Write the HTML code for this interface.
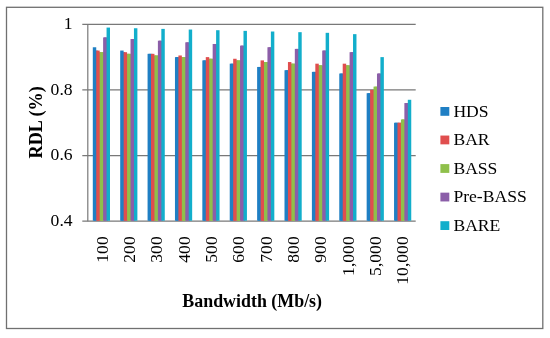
<!DOCTYPE html>
<html><head><meta charset="utf-8"><title>RDL chart</title>
<style>html,body{margin:0;padding:0;background:#fff}svg{display:block}text{font-family:"Liberation Serif","Times New Roman",serif;fill:#000}</style></head>
<body>
<svg width="550" height="338" viewBox="0 0 550 338">
<rect width="550" height="338" fill="#fff"/>
<rect x="6.5" y="7.3" width="536.3" height="321.2" fill="#fff" stroke="#707070" stroke-width="1.3"/>
<line x1="82.3" y1="24.30" x2="415.7" y2="24.30" stroke="#787878" stroke-width="1.2"/>
<line x1="82.3" y1="89.93" x2="415.7" y2="89.93" stroke="#787878" stroke-width="1.2"/>
<line x1="82.3" y1="155.57" x2="415.7" y2="155.57" stroke="#787878" stroke-width="1.2"/>
<line x1="82.3" y1="221.20" x2="415.7" y2="221.20" stroke="#787878" stroke-width="1.2"/>
<line x1="87.8" y1="24.3" x2="87.8" y2="221.2" stroke="#787878" stroke-width="1.2"/>
<rect x="93.80" y="50.55" width="3.94" height="170.15" fill="#1f7fc4"/><rect x="92.80" y="47.27" width="3.44" height="173.43" fill="#1f7fc4"/><rect x="97.24" y="52.19" width="3.94" height="168.51" fill="#e04e4e"/><rect x="96.24" y="50.55" width="3.44" height="170.15" fill="#e04e4e"/><rect x="100.68" y="52.19" width="3.94" height="168.51" fill="#8fc04b"/><rect x="99.68" y="52.19" width="3.44" height="168.51" fill="#8fc04b"/><rect x="104.12" y="37.43" width="3.94" height="183.27" fill="#8b5ea8"/><rect x="103.12" y="37.43" width="3.44" height="183.27" fill="#8b5ea8"/><rect x="106.56" y="27.58" width="3.44" height="193.12" fill="#12aecb"/>
<rect x="121.19" y="52.19" width="3.94" height="168.51" fill="#1f7fc4"/><rect x="120.19" y="50.55" width="3.44" height="170.15" fill="#1f7fc4"/><rect x="124.63" y="53.83" width="3.94" height="166.87" fill="#e04e4e"/><rect x="123.63" y="52.19" width="3.44" height="168.51" fill="#e04e4e"/><rect x="128.07" y="53.83" width="3.94" height="166.87" fill="#8fc04b"/><rect x="127.07" y="53.83" width="3.44" height="166.87" fill="#8fc04b"/><rect x="131.51" y="39.07" width="3.94" height="181.63" fill="#8b5ea8"/><rect x="130.51" y="39.07" width="3.44" height="181.63" fill="#8b5ea8"/><rect x="133.95" y="28.24" width="3.44" height="192.46" fill="#12aecb"/>
<rect x="148.57" y="53.83" width="3.94" height="166.87" fill="#1f7fc4"/><rect x="147.57" y="53.83" width="3.44" height="166.87" fill="#1f7fc4"/><rect x="152.01" y="55.48" width="3.94" height="165.22" fill="#e04e4e"/><rect x="151.01" y="53.83" width="3.44" height="166.87" fill="#e04e4e"/><rect x="155.45" y="55.48" width="3.94" height="165.22" fill="#8fc04b"/><rect x="154.45" y="55.48" width="3.44" height="165.22" fill="#8fc04b"/><rect x="158.89" y="40.71" width="3.94" height="179.99" fill="#8b5ea8"/><rect x="157.89" y="40.71" width="3.44" height="179.99" fill="#8b5ea8"/><rect x="161.33" y="28.89" width="3.44" height="191.81" fill="#12aecb"/>
<rect x="175.96" y="57.12" width="3.94" height="163.58" fill="#1f7fc4"/><rect x="174.96" y="57.12" width="3.44" height="163.58" fill="#1f7fc4"/><rect x="179.40" y="57.12" width="3.94" height="163.58" fill="#e04e4e"/><rect x="178.40" y="55.48" width="3.44" height="165.22" fill="#e04e4e"/><rect x="182.84" y="57.12" width="3.94" height="163.58" fill="#8fc04b"/><rect x="181.84" y="57.12" width="3.44" height="163.58" fill="#8fc04b"/><rect x="186.28" y="42.35" width="3.94" height="178.35" fill="#8b5ea8"/><rect x="185.28" y="42.35" width="3.44" height="178.35" fill="#8b5ea8"/><rect x="188.72" y="29.55" width="3.44" height="191.15" fill="#12aecb"/>
<rect x="203.34" y="60.40" width="3.94" height="160.30" fill="#1f7fc4"/><rect x="202.34" y="60.40" width="3.44" height="160.30" fill="#1f7fc4"/><rect x="206.78" y="58.76" width="3.94" height="161.94" fill="#e04e4e"/><rect x="205.78" y="57.12" width="3.44" height="163.58" fill="#e04e4e"/><rect x="210.22" y="58.76" width="3.94" height="161.94" fill="#8fc04b"/><rect x="209.22" y="58.76" width="3.44" height="161.94" fill="#8fc04b"/><rect x="213.66" y="43.99" width="3.94" height="176.71" fill="#8b5ea8"/><rect x="212.66" y="43.99" width="3.44" height="176.71" fill="#8b5ea8"/><rect x="216.10" y="30.21" width="3.44" height="190.49" fill="#12aecb"/>
<rect x="230.73" y="63.68" width="3.94" height="157.02" fill="#1f7fc4"/><rect x="229.73" y="63.68" width="3.44" height="157.02" fill="#1f7fc4"/><rect x="234.17" y="60.40" width="3.94" height="160.30" fill="#e04e4e"/><rect x="233.17" y="58.76" width="3.44" height="161.94" fill="#e04e4e"/><rect x="237.61" y="60.40" width="3.94" height="160.30" fill="#8fc04b"/><rect x="236.61" y="60.40" width="3.44" height="160.30" fill="#8fc04b"/><rect x="241.05" y="45.63" width="3.94" height="175.07" fill="#8b5ea8"/><rect x="240.05" y="45.63" width="3.44" height="175.07" fill="#8b5ea8"/><rect x="243.49" y="30.86" width="3.44" height="189.84" fill="#12aecb"/>
<rect x="258.12" y="66.96" width="3.94" height="153.74" fill="#1f7fc4"/><rect x="257.12" y="66.96" width="3.44" height="153.74" fill="#1f7fc4"/><rect x="261.56" y="62.04" width="3.94" height="158.66" fill="#e04e4e"/><rect x="260.56" y="60.40" width="3.44" height="160.30" fill="#e04e4e"/><rect x="265.00" y="62.04" width="3.94" height="158.66" fill="#8fc04b"/><rect x="264.00" y="62.04" width="3.44" height="158.66" fill="#8fc04b"/><rect x="268.44" y="47.27" width="3.94" height="173.43" fill="#8b5ea8"/><rect x="267.44" y="47.27" width="3.44" height="173.43" fill="#8b5ea8"/><rect x="270.88" y="31.52" width="3.44" height="189.18" fill="#12aecb"/>
<rect x="285.50" y="70.24" width="3.94" height="150.46" fill="#1f7fc4"/><rect x="284.50" y="70.24" width="3.44" height="150.46" fill="#1f7fc4"/><rect x="288.94" y="63.68" width="3.94" height="157.02" fill="#e04e4e"/><rect x="287.94" y="62.04" width="3.44" height="158.66" fill="#e04e4e"/><rect x="292.38" y="63.68" width="3.94" height="157.02" fill="#8fc04b"/><rect x="291.38" y="63.68" width="3.44" height="157.02" fill="#8fc04b"/><rect x="295.82" y="48.91" width="3.94" height="171.79" fill="#8b5ea8"/><rect x="294.82" y="48.91" width="3.44" height="171.79" fill="#8b5ea8"/><rect x="298.26" y="32.18" width="3.44" height="188.52" fill="#12aecb"/>
<rect x="312.89" y="71.88" width="3.94" height="148.82" fill="#1f7fc4"/><rect x="311.89" y="71.88" width="3.44" height="148.82" fill="#1f7fc4"/><rect x="316.33" y="65.32" width="3.94" height="155.38" fill="#e04e4e"/><rect x="315.33" y="63.68" width="3.44" height="157.02" fill="#e04e4e"/><rect x="319.77" y="65.32" width="3.94" height="155.38" fill="#8fc04b"/><rect x="318.77" y="65.32" width="3.44" height="155.38" fill="#8fc04b"/><rect x="323.21" y="50.55" width="3.94" height="170.15" fill="#8b5ea8"/><rect x="322.21" y="50.55" width="3.44" height="170.15" fill="#8b5ea8"/><rect x="325.65" y="32.83" width="3.44" height="187.87" fill="#12aecb"/>
<rect x="340.27" y="73.53" width="3.94" height="147.17" fill="#1f7fc4"/><rect x="339.27" y="73.53" width="3.44" height="147.17" fill="#1f7fc4"/><rect x="343.71" y="65.32" width="3.94" height="155.38" fill="#e04e4e"/><rect x="342.71" y="63.68" width="3.44" height="157.02" fill="#e04e4e"/><rect x="347.15" y="65.32" width="3.94" height="155.38" fill="#8fc04b"/><rect x="346.15" y="65.32" width="3.44" height="155.38" fill="#8fc04b"/><rect x="350.59" y="52.19" width="3.94" height="168.51" fill="#8b5ea8"/><rect x="349.59" y="52.19" width="3.44" height="168.51" fill="#8b5ea8"/><rect x="353.03" y="34.15" width="3.44" height="186.55" fill="#12aecb"/>
<rect x="367.66" y="93.22" width="3.94" height="127.48" fill="#1f7fc4"/><rect x="366.66" y="93.22" width="3.44" height="127.48" fill="#1f7fc4"/><rect x="371.10" y="89.93" width="3.94" height="130.77" fill="#e04e4e"/><rect x="370.10" y="89.93" width="3.44" height="130.77" fill="#e04e4e"/><rect x="374.54" y="86.65" width="3.94" height="134.05" fill="#8fc04b"/><rect x="373.54" y="86.65" width="3.44" height="134.05" fill="#8fc04b"/><rect x="377.98" y="73.53" width="3.94" height="147.17" fill="#8b5ea8"/><rect x="376.98" y="73.53" width="3.44" height="147.17" fill="#8b5ea8"/><rect x="380.42" y="57.12" width="3.44" height="163.58" fill="#12aecb"/>
<rect x="395.05" y="122.75" width="3.94" height="97.95" fill="#1f7fc4"/><rect x="394.05" y="122.75" width="3.44" height="97.95" fill="#1f7fc4"/><rect x="398.49" y="122.75" width="3.94" height="97.95" fill="#e04e4e"/><rect x="397.49" y="122.75" width="3.44" height="97.95" fill="#e04e4e"/><rect x="401.93" y="119.47" width="3.94" height="101.23" fill="#8fc04b"/><rect x="400.93" y="119.47" width="3.44" height="101.23" fill="#8fc04b"/><rect x="405.37" y="103.06" width="3.94" height="117.64" fill="#8b5ea8"/><rect x="404.37" y="103.06" width="3.44" height="117.64" fill="#8b5ea8"/><rect x="407.81" y="99.78" width="3.44" height="120.92" fill="#12aecb"/>
<text x="72.6" y="29.20" font-size="17.6" text-anchor="end">1</text>
<text x="72.6" y="94.83" font-size="17.6" text-anchor="end">0.8</text>
<text x="72.6" y="160.47" font-size="17.6" text-anchor="end">0.6</text>
<text x="72.6" y="226.10" font-size="17.6" text-anchor="end">0.4</text>
<text transform="translate(107.50,236.3) rotate(-90)" font-size="17.6" text-anchor="end">100</text>
<text transform="translate(134.84,236.3) rotate(-90)" font-size="17.6" text-anchor="end">200</text>
<text transform="translate(162.18,236.3) rotate(-90)" font-size="17.6" text-anchor="end">300</text>
<text transform="translate(189.52,236.3) rotate(-90)" font-size="17.6" text-anchor="end">400</text>
<text transform="translate(216.86,236.3) rotate(-90)" font-size="17.6" text-anchor="end">500</text>
<text transform="translate(244.20,236.3) rotate(-90)" font-size="17.6" text-anchor="end">600</text>
<text transform="translate(271.54,236.3) rotate(-90)" font-size="17.6" text-anchor="end">700</text>
<text transform="translate(298.88,236.3) rotate(-90)" font-size="17.6" text-anchor="end">800</text>
<text transform="translate(326.22,236.3) rotate(-90)" font-size="17.6" text-anchor="end">900</text>
<text transform="translate(353.56,236.3) rotate(-90)" font-size="17.6" text-anchor="end">1,000</text>
<text transform="translate(380.90,236.3) rotate(-90)" font-size="17.6" text-anchor="end">5,000</text>
<text transform="translate(408.24,236.3) rotate(-90)" font-size="17.6" text-anchor="end">10,000</text>
<text x="252.2" y="306.9" font-size="17.9" font-weight="bold" text-anchor="middle">Bandwidth (Mb/s)</text>
<text transform="translate(42,122.3) rotate(-90)" font-size="18.2" font-weight="bold" text-anchor="middle">RDL (%)</text>
<rect x="440.4" y="107.00" width="8.9" height="8.8" fill="#1f7fc4"/><text x="453.4" y="116.70" font-size="17.6">HDS</text>
<rect x="440.4" y="135.55" width="8.9" height="8.8" fill="#e04e4e"/><text x="453.4" y="145.25" font-size="17.6">BAR</text>
<rect x="440.4" y="164.10" width="8.9" height="8.8" fill="#8fc04b"/><text x="453.4" y="173.80" font-size="17.6">BASS</text>
<rect x="440.4" y="192.65" width="8.9" height="8.8" fill="#8b5ea8"/><text x="453.4" y="202.35" font-size="17.6">Pre-BASS</text>
<rect x="440.4" y="221.20" width="8.9" height="8.8" fill="#12aecb"/><text x="453.4" y="230.90" font-size="17.6">BARE</text>
</svg>
</body></html>
